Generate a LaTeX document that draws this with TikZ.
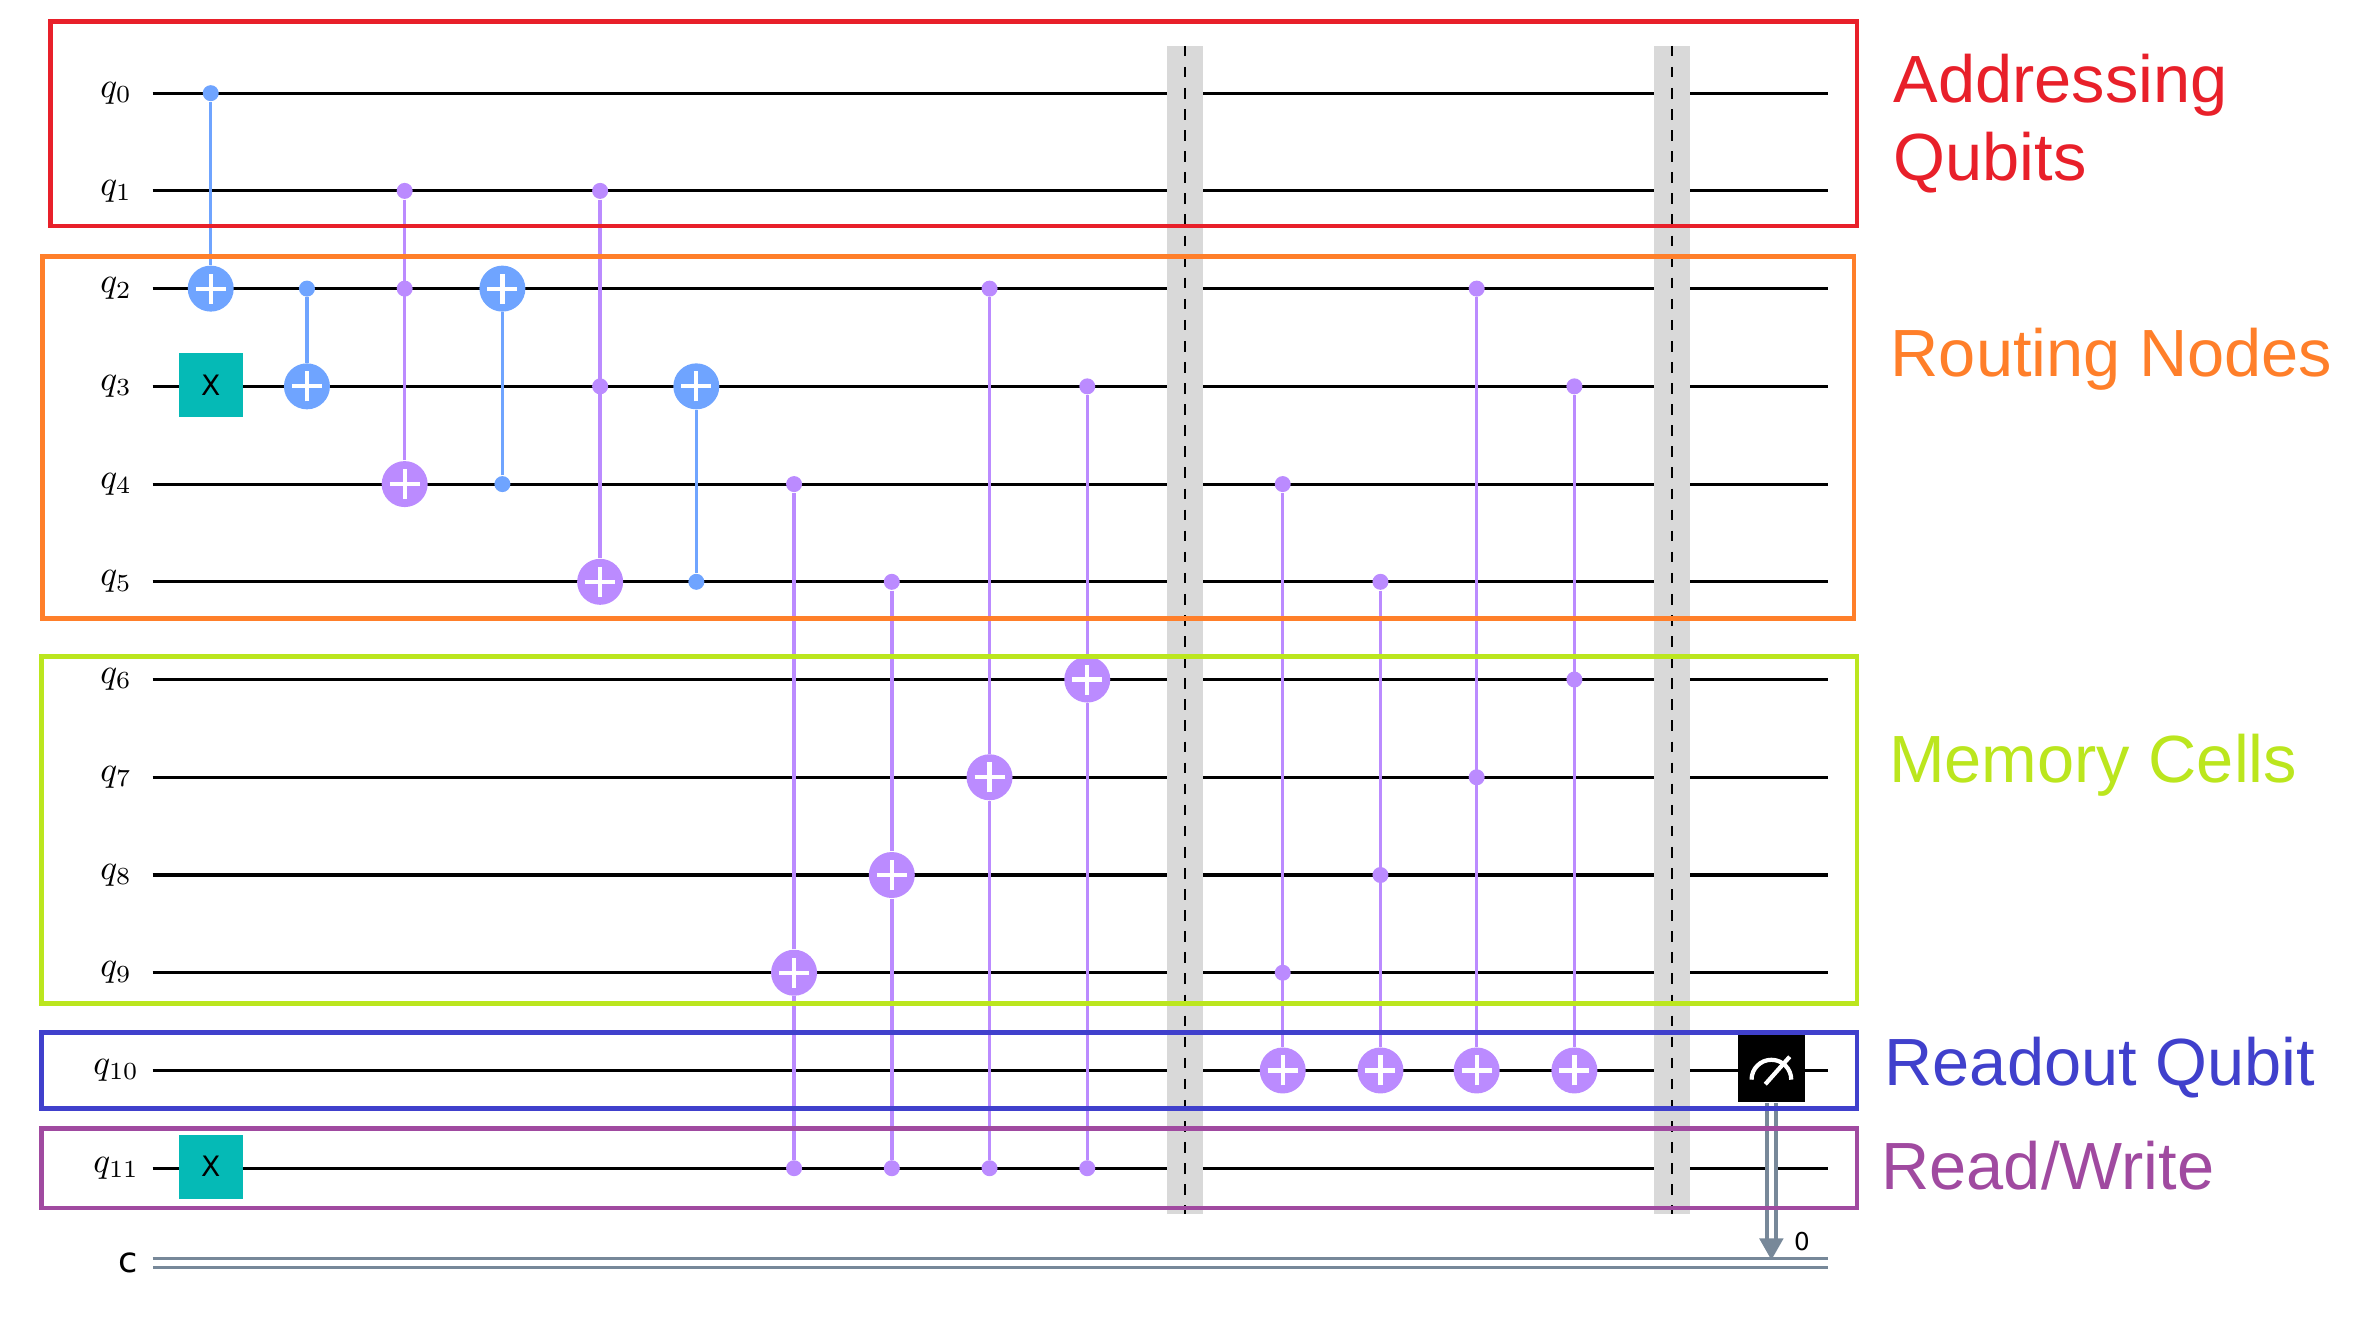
\documentclass[tikz,border=0pt]{standalone}
\usepackage{fontspec}
\setmainfont{DejaVu Sans}
\newfontfamily\boxfont{Liberation Sans}
\usetikzlibrary{positioning,arrows.meta}
\definecolor{cxblue}{HTML}{6FA4FF}
\definecolor{ccxpurp}{HTML}{BB8BFF}
\definecolor{xteal}{HTML}{05BAB6}
\definecolor{clgray}{HTML}{778899}
\definecolor{addrred}{HTML}{E8202A}
\definecolor{routorange}{HTML}{FF7F2A}
\definecolor{memlime}{HTML}{BBE61E}
\definecolor{readblue}{HTML}{4040CC}
\definecolor{rwpurple}{HTML}{A04AA0}
\tikzset{
  ctrl/.style={circle,fill=#1,inner sep=0pt,minimum size=0.16cm},
  targ/.style={circle,fill=#1,inner sep=0pt,minimum size=0.46cm,
    path picture={\draw[white,line width=1.2pt]
      ([yshift=-0.15cm]path picture bounding box.center) -- ([yshift=0.15cm]path picture bounding box.center)
      ([xshift=-0.15cm]path picture bounding box.center) -- ([xshift=0.15cm]path picture bounding box.center);}},
  xgate/.style={fill=xteal,minimum size=0.64cm,inner sep=0pt,font=\footnotesize},
  regbox/.style={draw=#1,line width=1.3pt},
  reglabel/.style={text=#1,font=\boxfont\fontsize{19}{22}\selectfont,anchor=west,align=left}
}
\begin{document}
\begin{tikzpicture}[x=0.01527cm,y=-0.01527cm]
\useasboundingbox (0,0) rectangle (1552,867);

% wires
\foreach \i in {0,...,11}{
  \coordinate (w\i) at (100,{61+64*\i});
  \coordinate (e\i) at (1197,{61+64*\i});
  \draw[line width=0.9pt] (w\i) -- (e\i);
  \node (lab\i) at (76,{61+64*\i}) {$q_{\i}$};
}
\coordinate (wc) at (100,827);
\coordinate (ec) at (1197,827);
\draw[clgray,double=white,double distance=1.6pt,line width=1pt] (wc) -- (ec);
\node (labc) at (84,827) {c};

% barriers
\foreach \x [count=\n] in {776,1095}{
  \fill[gray!30] (\x-12,30) rectangle (\x+12,795);
  \draw[dashed,thin] (\x,30) -- (\x,795);
}

% single gates
\node[xgate] (x3) at (138,252) {X};
\node[xgate] (x11) at (138,764) {X};

% cx gates
\foreach \x/\c/\t [count=\n] in {138/0/2, 201/2/3, 329/4/2, 456/5/3}{
  \node[ctrl=cxblue] (cc\n) at (\x,{61+64*\c}) {};
  \node[targ=cxblue] (ct\n) at (\x,{61+64*\t}) {};
  \draw[cxblue,line width=1pt] (cc\n) -- (ct\n);
}

% ccx gates
\foreach \x/\a/\b/\t [count=\n] in {265/1/2/4, 393/1/3/5, 520/4/11/9, 584/5/11/8, 648/2/11/7, 712/3/11/6, 840/4/9/10, 904/5/8/10, 967/2/7/10, 1031/3/6/10}{
  \node[ctrl=ccxpurp] (a\n) at (\x,{61+64*\a}) {};
  \node[ctrl=ccxpurp] (b\n) at (\x,{61+64*\b}) {};
  \node[targ=ccxpurp] (t\n) at (\x,{61+64*\t}) {};
  \draw[ccxpurp,line width=1pt] (a\n) -- (t\n) (b\n) -- (t\n);
}

% measure
\node[fill=black,minimum size=0.67cm,inner sep=0pt] (meas) at (1160,700) {};
\draw[white,line width=1.2pt] ([shift={(-13,7)}]meas.center) arc (180:360:13);
\draw[white,line width=1.2pt] ([shift={(-4,10)}]meas.center) -- ([shift={(12,-8)}]meas.center);
\coordinate (mc) at (1160,825);
\draw[clgray,double=white,double distance=1.6pt,line width=1pt] (meas.south) -- (1160,812);
\fill[clgray] (mc) -- ++(-8,-14) -- ++(16,0) -- cycle;
\node[font=\scriptsize] (bit0) at (1180,813) {0};

% register boxes
\draw[regbox=addrred] (33,14) rectangle (1216,148);
\draw[regbox=routorange] (28,168) rectangle (1214,405);
\draw[regbox=memlime] (27,430) rectangle (1216,657);
\draw[regbox=readblue] (27,676) rectangle (1216,726);
\draw[regbox=rwpurple] (27,739) rectangle (1216,791);

\node[reglabel=addrred] (addr) at (1232,81) {Addressing\\Qubits};
\node[reglabel=routorange] (rout) at (1230,235) {Routing Nodes};
\node[reglabel=memlime] (mem) at (1229,501) {Memory Cells};
\node[reglabel=readblue] (read) at (1226,699) {Readout Qubit};
\node[reglabel=rwpurple] (rw) at (1224,763) {Read/Write};
\end{tikzpicture}
\end{document}
